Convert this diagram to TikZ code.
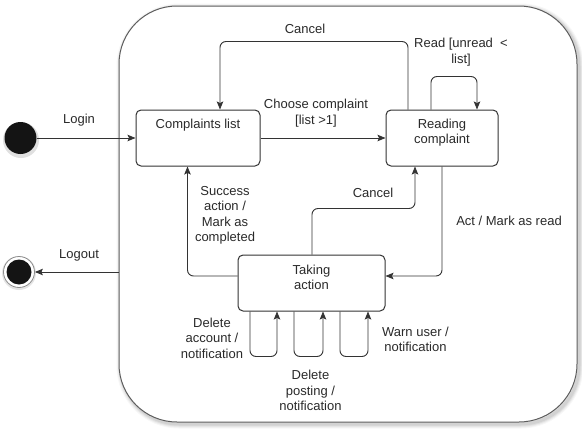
\documentclass[tikz,border=0pt]{standalone}
\usepackage{fontspec}
\setmainfont{Liberation Sans}
\usetikzlibrary{arrows.meta,calc}
\definecolor{ln}{HTML}{333333}
\definecolor{tx}{HTML}{2A2A2A}
\begin{document}
\begin{tikzpicture}[x=1pt,y=-1pt,
  statebox/.style={draw=ln, line width=1pt, rounded corners=5pt, fill=white, inner sep=0pt},
  lbl/.style={text=tx, font=\fontsize{13}{15.5}\selectfont, align=center, inner sep=0pt},
  stxt/.style={text=tx, font=\fontsize{13}{15.5}\selectfont, align=center, inner sep=0pt},
  arr/.style={draw=ln, line width=0.9pt, -{Stealth[length=8pt,width=6.5pt,inset=1.5pt]}, rounded corners=6pt},
  line/.style={draw=ln, line width=0.9pt, rounded corners=6pt},
]
\useasboundingbox (0,0) rectangle (582,429);
\fill[white] (0,0) rectangle (582,429);

% container shadow (soft)
\foreach \w/\o in {9/0.03,7/0.04,5/0.05,3/0.06}{
  \draw[black, opacity=\o, line width=\w pt, rounded corners=58pt] (121,8) rectangle (579,424);
}
\node[draw=ln!80, line width=1pt, rounded corners=58pt, minimum width=458pt, minimum height=416pt, inner sep=0pt, fill=white] (outer) at (348,214) {};

% initial and final states
\fill[black!12] (21,140) circle (18);
\node[circle, fill=black!92, minimum size=32pt, inner sep=0pt] (init) at (20.5,138) {};
\fill[black!10] (19,273) circle (17);
\node[circle, draw=black!45, line width=0.8pt, fill=white, minimum size=31pt, inner sep=0pt] (final) at (19,272) {};
\fill[black!92] (final.center) circle (12.5);

% states
\node[statebox, minimum width=124pt, minimum height=56pt] (cl) at (198,138) {};
\node[stxt] (cltxt) at (198,125) {Complaints list};
\node[statebox, minimum width=112pt, minimum height=56pt] (rc) at (442,138) {};
\node[stxt] (rctxt) at (442,132.5) {Reading\\complaint};
\node[statebox, minimum width=147pt, minimum height=56pt] (ta) at (311.5,283) {};
\node[stxt] (tatxt) at (311.5,277.5) {Taking\\action};

% connectors
\draw[arr] (init.east) -- (cl.west);
\draw[arr] (outer.west |- final) -- (final.east);
\draw[arr] ($(rc.north)+(-34,0)$) -- ++(0,-68) -| ($(cl.north)+(22,0)$);
\draw[arr] (cl.east) -- (rc.west);
\draw[arr] ($(rc.north)+(-11,0)$) -- ++(0,-33) -| ($(rc.north)+(35,0)$);
\draw[arr] ($(ta.west)+(0,-7)$) -| ($(cl.south)+(-10.5,0)$);
\draw[arr] ($(ta.north)+(0.5,0)$) -- ++(0,-46) -| ($(rc.south)+(-27,0)$);
\draw[arr] (rc.south) |- ($(ta.east)+(0,-7)$);
\draw[arr] ($(ta.south)+(-61.5,0)$) -- ++(0,45) -| ($(ta.south)+(-34.5,0)$);
\draw[arr] ($(ta.south)+(-17.5,0)$) -- ++(0,45) -| ($(ta.south)+(11.5,0)$);
\draw[arr] ($(ta.south)+(28.5,0)$) -- ++(0,45) -| ($(ta.south)+(56.5,0)$);

% labels
\node[lbl] (lLogin) at (79,120) {Login};
\node[lbl] (lLogout) at (79,255) {Logout};
\node[lbl] (lCancel1) at (305,29) {Cancel};
\node[lbl] (lRead) at (461,52) {Read [unread\ \ <\\list]};
\node[lbl] (lChoose) at (316,113) {Choose complaint\\{}[list >1]};
\node[lbl] (lSuccess) at (225,215.5) {Success\\action /\\Mark as\\completed};
\node[lbl] (lCancel2) at (373,193) {Cancel};
\node[lbl] (lAct) at (509,221) {Act / Mark as read};
\node[lbl] (lDelAcc) at (212,338) {Delete\\account /\\notification};
\node[lbl] (lDelPost) at (310.5,390.5) {Delete\\posting /\\notification};
\node[lbl] (lWarn) at (415.5,339.5) {Warn user /\\notification};
\end{tikzpicture}
\end{document}
